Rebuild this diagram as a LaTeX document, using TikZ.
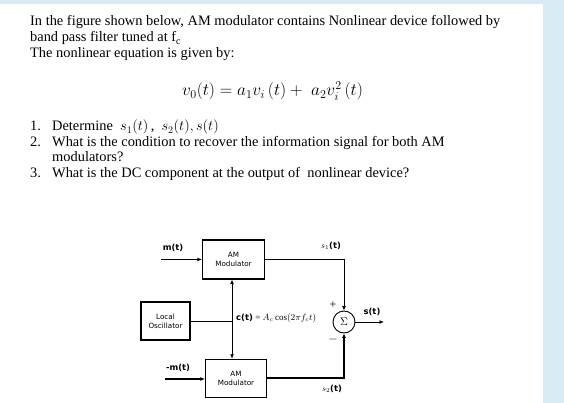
\documentclass[tikz,border=0pt]{standalone}
\usepackage{fontspec}
\setmainfont{Liberation Serif}
\newfontfamily\dv{DejaVu Sans}
\usetikzlibrary{arrows.meta}
\definecolor{bgblue}{RGB}{217,234,245}
\tikzset{
  txt/.style={anchor=base west, inner sep=0pt, font=\fontsize{14.4}{16}\selectfont},
  blk/.style={draw, line width=1.1pt, inner sep=0pt, align=center, font=\dv\fontsize{7.2}{9}\selectfont},
  lbl/.style={inner sep=0pt, font=\dv\bfseries\fontsize{8.4}{9}\selectfont},
  wire/.style={line width=1pt},
  thick wire/.style={line width=1.7pt},
  arr/.style={-{Latex[length=4.5pt,width=4pt]}},
}
\begin{document}
\begin{tikzpicture}[x=1pt,y=-1pt]
\useasboundingbox (0,0) rectangle (564,403);
\fill[bgblue] (0,0) rectangle (564,403);
\fill[white] (0,4) rectangle (543,403);
% text
\node[txt] (l1) at (30,26) {In the figure shown below, AM modulator contains Nonlinear device followed by};
\node[txt] (l2) at (30,42) {band pass filter tuned at f\textsubscript{c}};
\node[txt] (l3) at (30,58) {The nonlinear equation is given by:};
\node[txt, font=\fontsize{16.4}{18}\selectfont] (eq) at (182,96) {$v_0(t) = a_1 v_i\,(t) +\; a_2 v_i^2\,(t)$};
\node[txt] (n1) at (30,131) {1.};
\node[txt] (i1) at (52,131) {Determine\ \ $s_1(t)$\,,\ \ $s_2(t), s(t)$};
\node[txt] (n2) at (30,146.5) {2.};
\node[txt] (i2) at (52,146.5) {What is the condition to recover the information signal for both AM};
\node[txt] (i2b) at (52,162) {modulators?};
\node[txt] (n3) at (30,177.5) {3.};
\node[txt] (i3) at (52,177.5) {What is the DC component at the output of\ \ nonlinear device?};
% blocks
\node[blk, minimum width=62pt, minimum height=39pt] (top) at (233.5,259.5) {AM\\Modulator};
\node[blk, minimum width=61pt, minimum height=38pt] (bot) at (236,378.3) {AM\\Modulator};
\node[blk, minimum width=49pt, minimum height=38pt] (lo) at (165.5,321) {Local\\Oscillator};
\node[draw, circle, line width=0.9pt, minimum size=22pt, inner sep=0pt, font=\fontsize{10.5}{10.5}\selectfont] (sum) at (344,322) {$\Sigma$};
% connectors
\coordinate (min) at (161,259.5);
\coordinate (mmin) at (165,379);
\coordinate (j) at (232,321);
\coordinate (sout) at (384,322);
\draw[wire,arr] (min) -- (min -| top.west);
\draw[thick wire,arr] (mmin) -- (mmin -| bot.west);
\draw[wire,arr] (top.east) -| (sum.north);
\draw[thick wire,arr] (bot.east) -| (sum.south);
\draw[wire] (lo.east) -- (j);
\draw[wire,arr] (j) -- (j |- top.south);
\draw[wire,arr] (j) -- (j |- bot.north);
\draw[wire,arr] (sum.east) -- (sout);
% labels
\node[lbl] (mt) at (173,248) {m(t)};
\node[lbl] (mmt) at (178,368) {-m(t)};
\node[lbl] (st) at (372,312) {s(t)};
\node[inner sep=0pt, font=\fontsize{8.5}{9}\selectfont] (s1) at (331,246) {$s_1$\dv\bfseries\fontsize{8.4}{9}\selectfont(t)};
\node[inner sep=0pt, font=\fontsize{8.5}{9}\selectfont] (s2) at (332,389) {$s_2$\dv\bfseries\fontsize{8.4}{9}\selectfont(t)};
\node[inner sep=0pt, anchor=west] (ct) at (236,318) {{\dv\bfseries\fontsize{8.4}{9}\selectfont c(t)} {\fontsize{9}{10}\selectfont = $A_c\cos(2\pi f_c t)$}};
\node[inner sep=0pt, font=\fontsize{12}{12}\selectfont] (plus) at (333,305) {+};
\node[inner sep=0pt, font=\fontsize{12}{12}\selectfont] (minus) at (333,339.5) {$-$};
\end{tikzpicture}
\end{document}
